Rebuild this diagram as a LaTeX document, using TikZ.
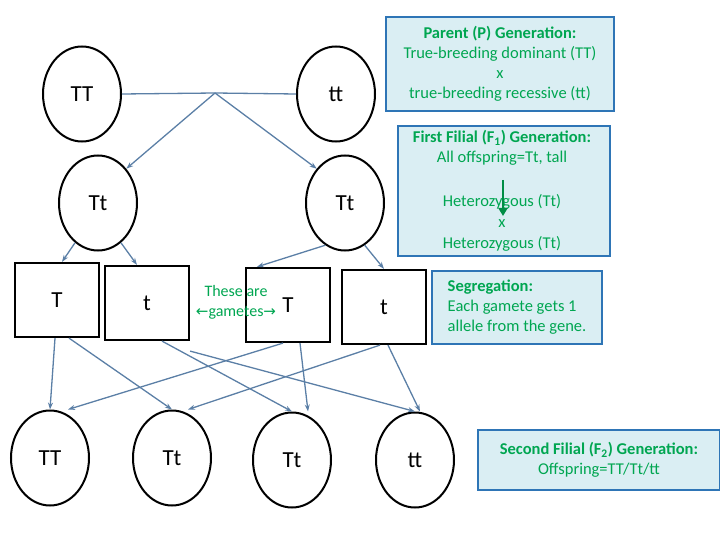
\documentclass[tikz,border=0pt]{standalone}
\usepackage{fontspec}
\setmainfont{Carlito}
\newfontfamily\djv{DejaVu Sans}
\usetikzlibrary{arrows.meta,shapes.geometric}
\definecolor{gtext}{HTML}{00A651}
\definecolor{bfill}{HTML}{DAEEF3}
\definecolor{bdraw}{HTML}{2E75B6}
\definecolor{conn}{HTML}{5B7FA6}
\tikzset{
  ell/.style={draw,line width=2pt,ellipse,minimum width=78pt,minimum height=95pt,inner sep=0pt,font=\fontsize{23}{25}\selectfont},
  gam/.style={draw,line width=2.2pt,minimum width=84pt,minimum height=74pt,inner sep=0pt,font=\fontsize{23}{25}\selectfont},
  info/.style={draw=bdraw,fill=bfill,line width=2pt,text=gtext,align=center,font=\fontsize{16.5}{20}\selectfont},
  ar/.style={conn,line width=1.3pt,-{Stealth[length=7pt,width=5pt]}},
}
\begin{document}
\begin{tikzpicture}[x=1pt,y=-1pt]
\useasboundingbox (0,0) rectangle (720,540);
% parents
\node[ell] (P1) at (82,94) {TT};
\node[ell] (P2) at (336,94) {tt};
\coordinate (J) at (215,93);
\draw[conn,line width=1.3pt] (P1.east) -- (J) -- (P2.west);
% F1
\node[ell] (F1a) at (98,203) {Tt};
\node[ell] (F1b) at (345,203) {Tt};
\draw[ar] (J) -- (F1a.north east);
\draw[ar] (J) -- (F1b.north west);
% gametes
\node[gam] (Ga) at (57,300) {T};
\node[gam] (Gb) at (147,303) {t};
\node[gam] (Gc) at (288,305) {T};
\node[gam] (Gd) at (384,307) {t};
\draw[ar] (F1a.240) -- ([xshift=5pt]Ga.north);
\draw[ar] (F1a.300) -- ([xshift=-10pt]Gb.north);
\draw[ar] (F1b.245) -- ([xshift=12pt]Gc.north west);
\draw[ar] (F1b.295) -- ([xshift=0pt]Gd.north);
\node[text=gtext,font=\fontsize{16}{20}\selectfont,align=center] (lab) at (236,302)
  {These are\\{\djv\fontsize{15}{17}\selectfont ←}gametes{\djv\fontsize{15}{17}\selectfont →}};
% F2
\node[ell] (C1) at (50,458) {TT};
\node[ell] (C2) at (172,458) {Tt};
\node[ell] (C3) at (292,460) {Tt};
\node[ell] (C4) at (415,460) {tt};
\draw[ar] ([xshift=-2pt]Ga.south) -- (C1.north);
\draw[ar] ([xshift=12pt]Ga.south) -- (C2.north);
\draw[ar] ([xshift=15pt]Gb.south) -- (C3.north);
\draw[ar] ([yshift=-10pt]Gb.south east) -- (C4.north);
\draw[ar] ([xshift=-5pt]Gc.south) -- ([xshift=18pt]C1.north);
\draw[ar] ([xshift=12pt]Gc.south) -- ([xshift=16pt]C3.north);
\draw[ar] ([xshift=-4pt]Gd.south) -- ([xshift=16pt]C2.north);
\draw[ar] ([xshift=4pt]Gd.south) -- ([xshift=5pt]C4.north);
% info boxes
\node[info,minimum width=228pt,minimum height=94pt] (B1) at (500,64)
  {\textbf{Parent (P) Generation:}\\True-breeding dominant (TT)\\x\\true-breeding recessive (tt)};
\node[info,minimum width=212pt,minimum height=130pt,anchor=north] (B2) at (504,125) {};
\node[text=gtext,font=\fontsize{16.5}{20}\selectfont,align=center] (B2a) at (502,148)
  {\textbf{First Filial (F\textsubscript{1}) Generation:}\\All offspring=Tt, tall};
\node[text=gtext,font=\fontsize{16.5}{21}\selectfont,align=center] (B2b) at (502,223)
  {Heterozygous (Tt)\\x\\Heterozygous (Tt)};
\coordinate (ArT) at (503,180);
\coordinate (ArB) at (503,216);
\draw[gtext!85!black,line width=2.5pt,-{Triangle[length=8pt,width=9pt]}] (ArT) -- (ArB);
\node[info,minimum width=170pt,minimum height=73pt,align=left,inner sep=2pt] (B3) at (517,307)
  {\textbf{Segregation:}\\Each gamete gets 1\\allele from the gene.};
\node[info,minimum width=242pt,minimum height=60pt,inner sep=2pt] (B4) at (599,460)
  {\textbf{Second Filial (F\textsubscript{2}) Generation:}\\Offspring=TT/Tt/tt};
\end{tikzpicture}
\end{document}
